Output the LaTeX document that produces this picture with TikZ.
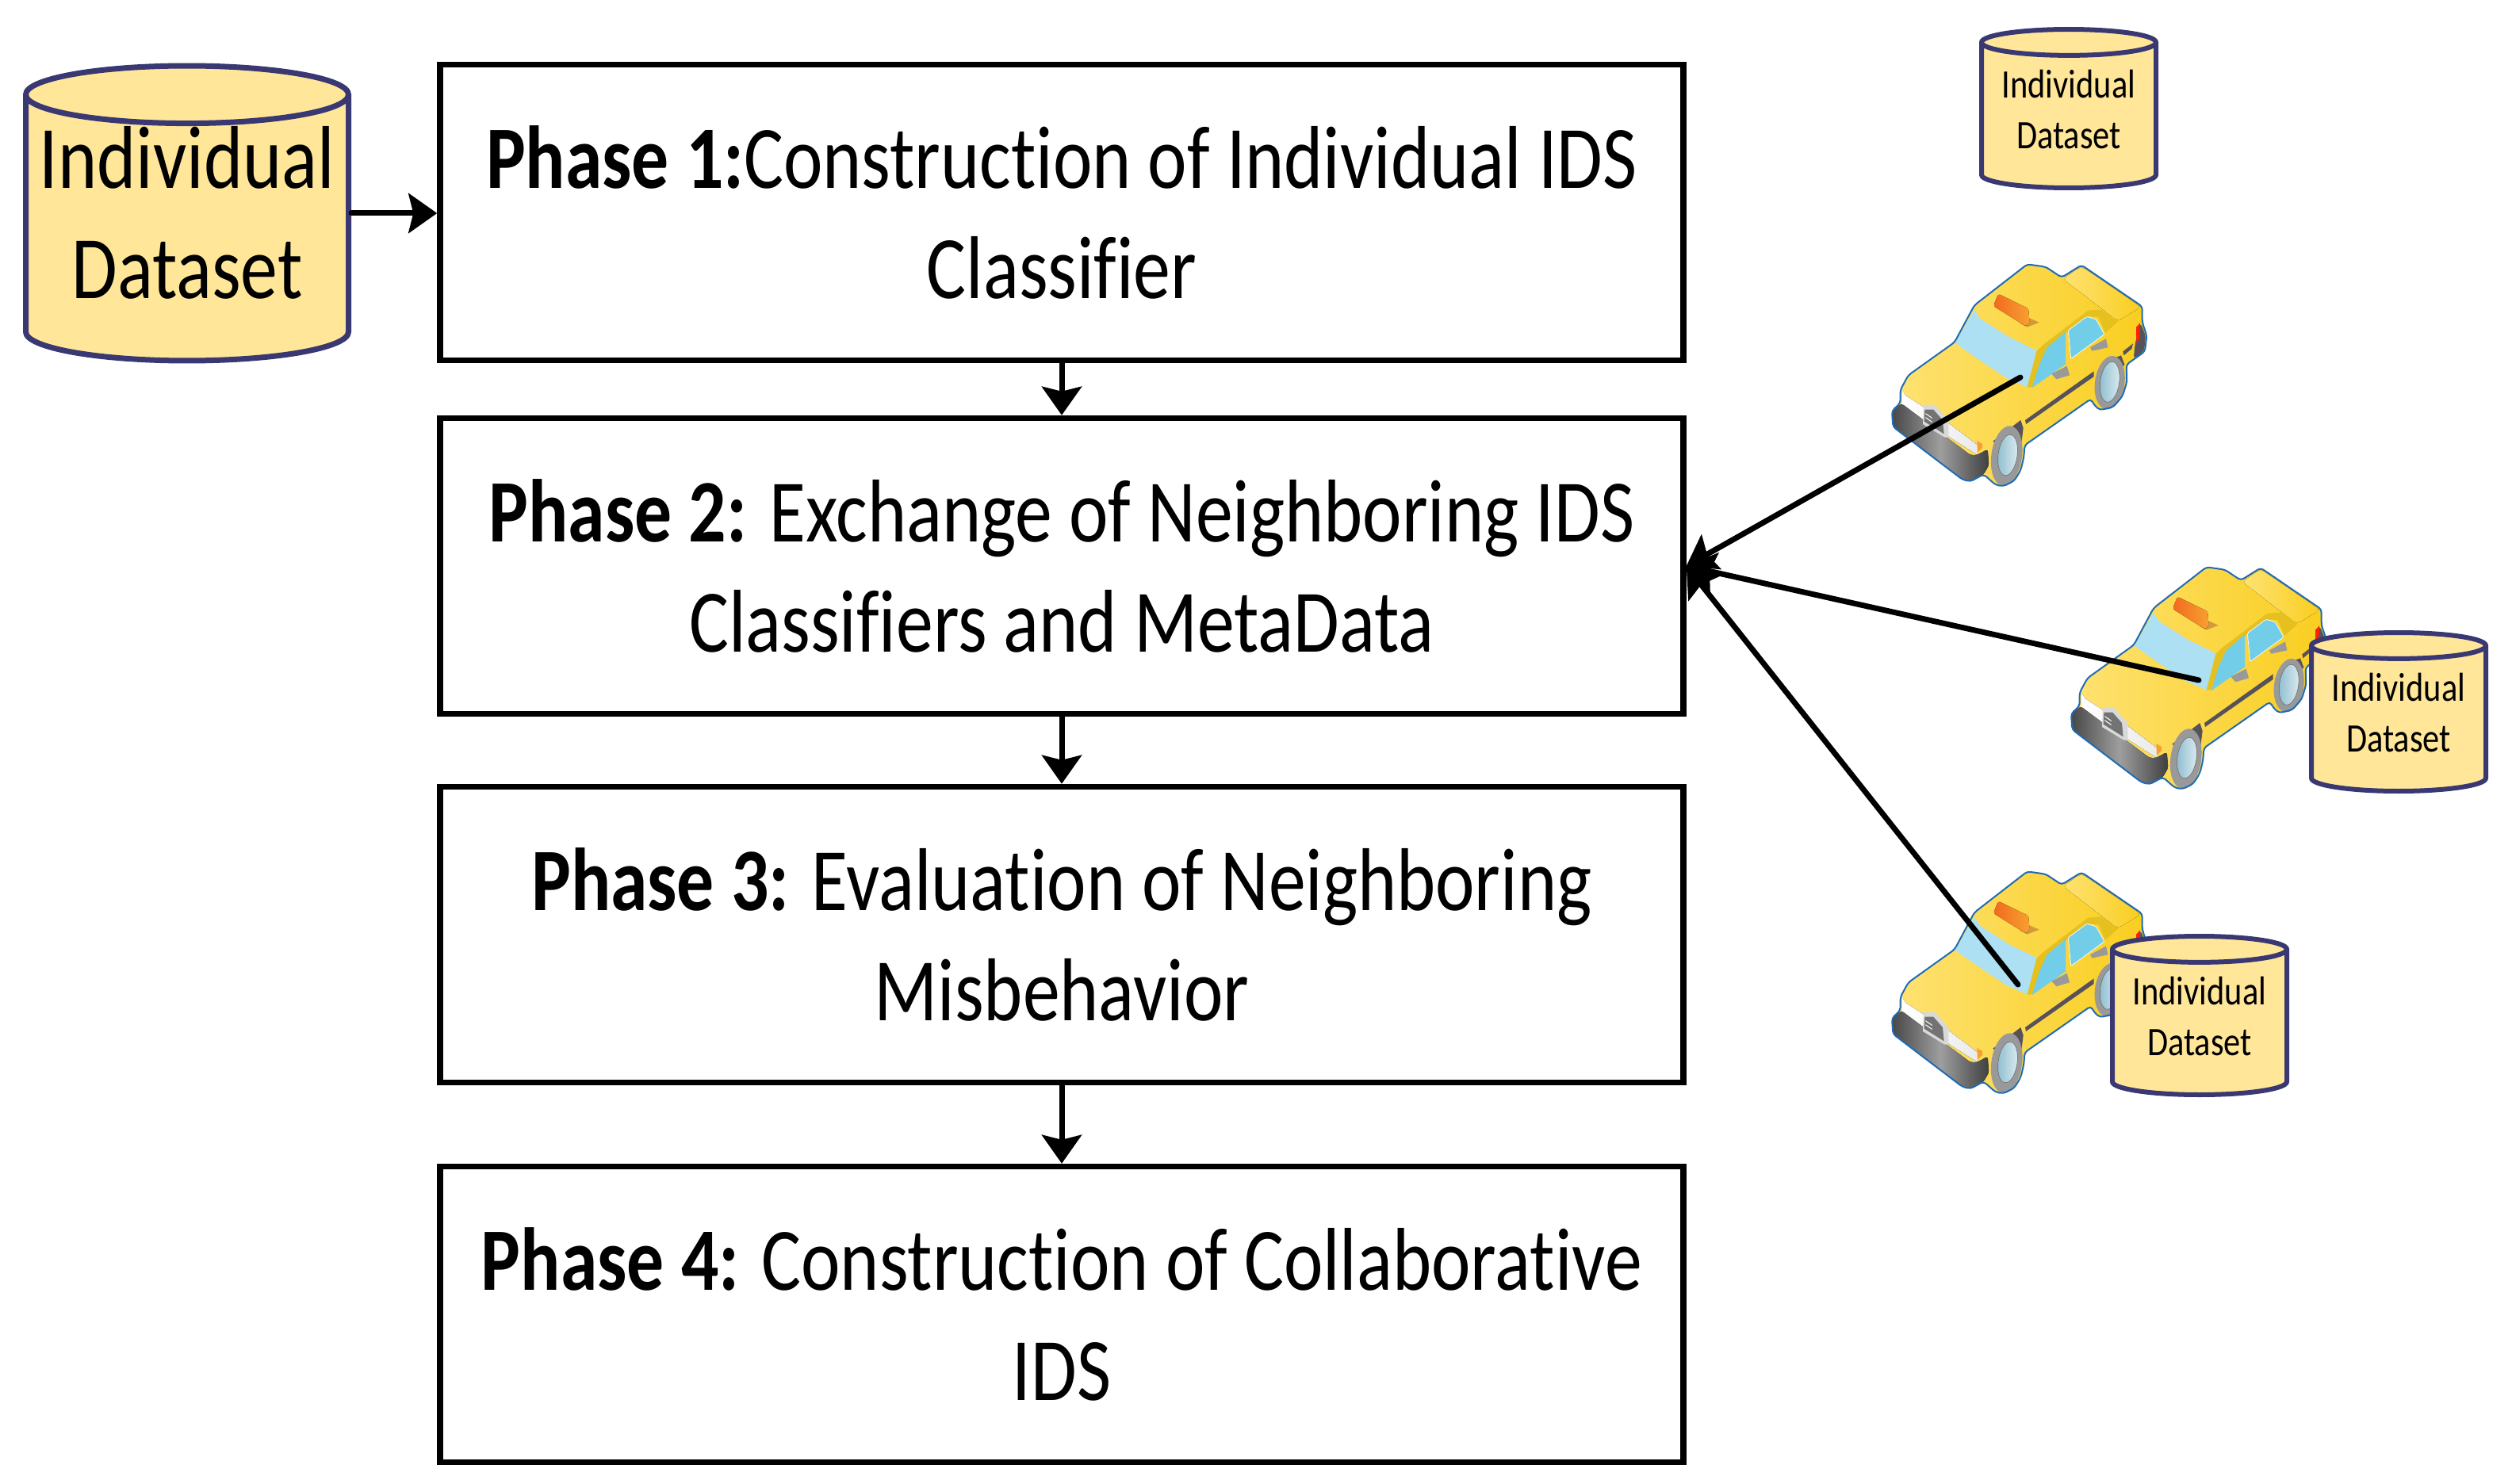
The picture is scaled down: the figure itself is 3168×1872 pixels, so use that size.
\documentclass[tikz,border=0pt]{standalone}
\usepackage{fontspec}
\setmainfont{Carlito}[FakeStretch=0.833,RawFeature={-liga}]
\usetikzlibrary{arrows.meta,shapes.geometric}
\definecolor{dbfill}{HTML}{FFE699}
\definecolor{dbline}{HTML}{393872}
\definecolor{carline}{HTML}{1F6BB5}
\definecolor{yellowA}{HTML}{FEE273}
\definecolor{yellowB}{HTML}{F9CE1F}
\definecolor{frameY}{HTML}{E6C01E}
\definecolor{glassA}{HTML}{ADE0F2}
\definecolor{glassB}{HTML}{72CDE8}
\definecolor{steel}{HTML}{57525A}
\definecolor{hubA}{HTML}{8DBDCF}
\definecolor{hubB}{HTML}{DCEBEF}
\definecolor{lampA}{HTML}{F2691F}
\definecolor{lampB}{HTML}{F7A030}
\definecolor{lampS}{HTML}{D39A3C}
\newcommand{\taxibody}{(258,655) -- (290,625) -- (290,575) -- (320,520) -- (495,395) -- (570,255) -- (770,100)
  -- (840,110) -- (900,150) -- (975,103) -- (1205,260) -- (1205,320) -- (1222,370) -- (1215,430)
  -- (1145,480) -- (1147,545) -- (1130,600) -- (1095,640) -- (1045,652) -- (1025,635) -- (1010,610)
  -- (760,785) -- (757,830) -- (745,880) -- (720,920) -- (680,940) -- (650,935) -- (605,895) -- (555,922)
  -- (525,915) -- (262,715) -- cycle}
\tikzset{
  x=0.1mm,y=-0.1mm,
  phase/.style={draw,line width=0.75mm,minimum width=156.8mm,minimum height=37.3mm,align=center,
    font=\fontsize{32}{39.7}\selectfont,inner sep=0pt},
  db/.style={shape=cylinder,shape border rotate=90,draw=dbline,fill=dbfill,align=center,inner sep=0pt,
    aspect=0.195,anchor=shape center},
  bigdb/.style={db,line width=0.7mm,minimum width=40.7mm,minimum height=36.9mm,font=\fontsize{32}{39.7}\selectfont},
  smalldb/.style={db,line width=0.6mm,minimum width=22mm,minimum height=20mm,font=\fontsize{14.5}{18.4}\selectfont},
  flow/.style={line width=0.7mm,line cap=round,-{Stealth[length=3.6mm,width=5mm,inset=0.6mm]}},
  taxi/.pic={
    \begin{scope}[x=0.033333mm,y=-0.033333mm,line join=round]
      % body
      \path[rounded corners=0.4mm,left color=yellowA,right color=yellowB] \taxibody;
      % trunk
      \fill[left color=yellowA,right color=yellowB,rounded corners=0.5mm]
        (905,155) -- (975,108) -- (1200,262) -- (1112,315) -- cycle;
      % rear end
      \fill[steel,rounded corners=0.4mm] (1198,322) -- (1218,370) -- (1212,428) -- (1172,458) -- (1178,400) -- cycle;
      \fill[red!75!orange] (1182,338) -- (1197,322) -- (1195,380) -- (1183,398) -- cycle;
      % front chrome and bumper
      \fill[left color=white,right color=black!8] (298,578) -- (310,597) -- (470,700) -- (570,775) -- (582,785) -- (582,822) -- (298,640) -- cycle;
      \fill[left color=black!72,right color=black!75,middle color=black!38,rounded corners=0.3mm]
        (258,655) -- (294,627) -- (555,822) -- (580,822) -- (620,800) -- (625,860) -- (605,895) -- (555,922)
        -- (525,915) -- (262,715) -- cycle;
      % grille
      \fill[black!15] (378,632) -- (420,632) -- (472,690) -- (472,755) -- (458,755) -- (375,705) -- cycle;
      \fill[black!55] (382,650) -- (415,650) -- (450,690) -- (455,742) -- (380,695) -- cycle;
      \draw[white,line width=0.1mm] (385,665) -- (410,682) (385,680) -- (410,697);
      \fill[lampB] (580,768) -- (600,780) -- (600,795) -- (582,812) -- cycle;
      % windshield
      \fill[glassA] (497,398) -- (570,272) -- (590,305) -- (700,375) -- (808,428) -- (770,565) -- (690,530) -- (600,470) -- cycle;
      % side windows
      \fill[frameY] (770,565) -- (805,430) -- (830,405) -- (1000,275) -- (1050,272) -- (1115,315) -- (1065,360) -- (1040,300)
        -- (1000,298) -- (845,415) -- (790,565) -- cycle;
      \fill[glassB] (788,568) -- (815,480) -- (845,415) -- (915,355) -- (915,478) -- cycle;
      \fill[glassB,draw=white,line width=0.07mm,rounded corners=0.15mm] (925,350) -- (995,298) -- (1030,308) -- (1062,365) -- (935,458) -- cycle;
      \fill[black!40] (862,515) -- (920,485) -- (930,520) -- (880,535) -- cycle;
      \fill[black!40] (1008,415) -- (1068,382) -- (1075,415) -- (1015,428) -- cycle;
      % side strips
      \fill[steel] (762,690) -- (1022,505) -- (1022,525) -- (765,705) -- cycle;
      \fill[steel] (1132,430) -- (1170,400) -- (1165,420) -- (1135,445) -- cycle;
      % roof light
      \fill[lampS] (760,296) -- (815,320) -- (770,338) -- (745,325) -- cycle;
      \fill[left color=lampA,right color=lampB,rounded corners=0.3mm]
        (660,212) -- (775,268) -- (778,325) -- (765,335) -- (642,258) -- cycle;
      % wheels
      \fill[steel] (640,770) -- (745,690) -- (755,720) -- (745,800) -- (680,800) -- cycle;
      \fill[steel] (1060,470) -- (1125,445) -- (1138,480) -- (1100,520) -- cycle;
      \fill[black!40,rotate around={-8:(692,825)}] (692,825) ellipse [x radius=58,y radius=114];
      \fill[left color=hubA,right color=hubB,draw=black!55,line width=0.05mm,rotate around={-8:(696,822)}] (696,822) ellipse [x radius=36,y radius=78];
      \fill[black!40,rotate around={-8:(1082,548)}] (1082,548) ellipse [x radius=56,y radius=102];
      \fill[left color=hubA,right color=hubB,draw=black!55,line width=0.05mm,rotate around={-8:(1082,545)}] (1082,545) ellipse [x radius=36,y radius=77];
      % outline
      \draw[carline,line width=0.2mm,rounded corners=0.4mm] \taxibody;
    \end{scope}
  }
}
\begin{document}
\begin{tikzpicture}
\useasboundingbox (0,0) rectangle (3168,1872);
% phases
\node[phase] (p1) at (1339,268) {\textbf{Phase 1:}Construction of Individual IDS\\Classifier};
\node[phase] (p2) at (1339,714) {\textbf{Phase 2:} Exchange of Neighboring IDS\\Classifiers and MetaData};
\node[phase] (p3) at (1339,1179) {\textbf{Phase 3:} Evaluation of Neighboring\\Misbehavior};
\node[phase] (p4) at (1339,1658) {\textbf{Phase 4:} Construction of Collaborative\\IDS};
% vehicles
\pic at (2300,300) {taxi};
\pic at (2526,682) {taxi};
\pic at (2300,1066) {taxi};
% datasets
\node[bigdb] (d0) at (236,269) {Individual\\Dataset\rule[-4.2mm]{0pt}{0pt}};
\node[smalldb] (d1) at (2609,137) {Individual\\Dataset\rule[-1.8mm]{0pt}{0pt}};
\node[smalldb] (d2) at (3025,898) {Individual\\Dataset\rule[-1.8mm]{0pt}{0pt}};
\node[smalldb] (d3) at (2774,1281) {Individual\\Dataset\rule[-1.8mm]{0pt}{0pt}};
% arrows
\coordinate (c1) at (2548,476);
\coordinate (c2) at (2773,858);
\coordinate (c3) at (2545,1242);
\draw[flow] (d0.east |- d0.shape center) -- (p1.west |- d0.shape center);
\draw[flow] (p1) -- (p2);
\draw[flow] (p2) -- (p3);
\draw[flow] (p3) -- (p4);
\draw[flow] (c1) -- (p2.east);
\draw[flow] (c2) -- (p2.east);
\draw[flow] (c3) -- (p2.east);
\end{tikzpicture}
\end{document}
